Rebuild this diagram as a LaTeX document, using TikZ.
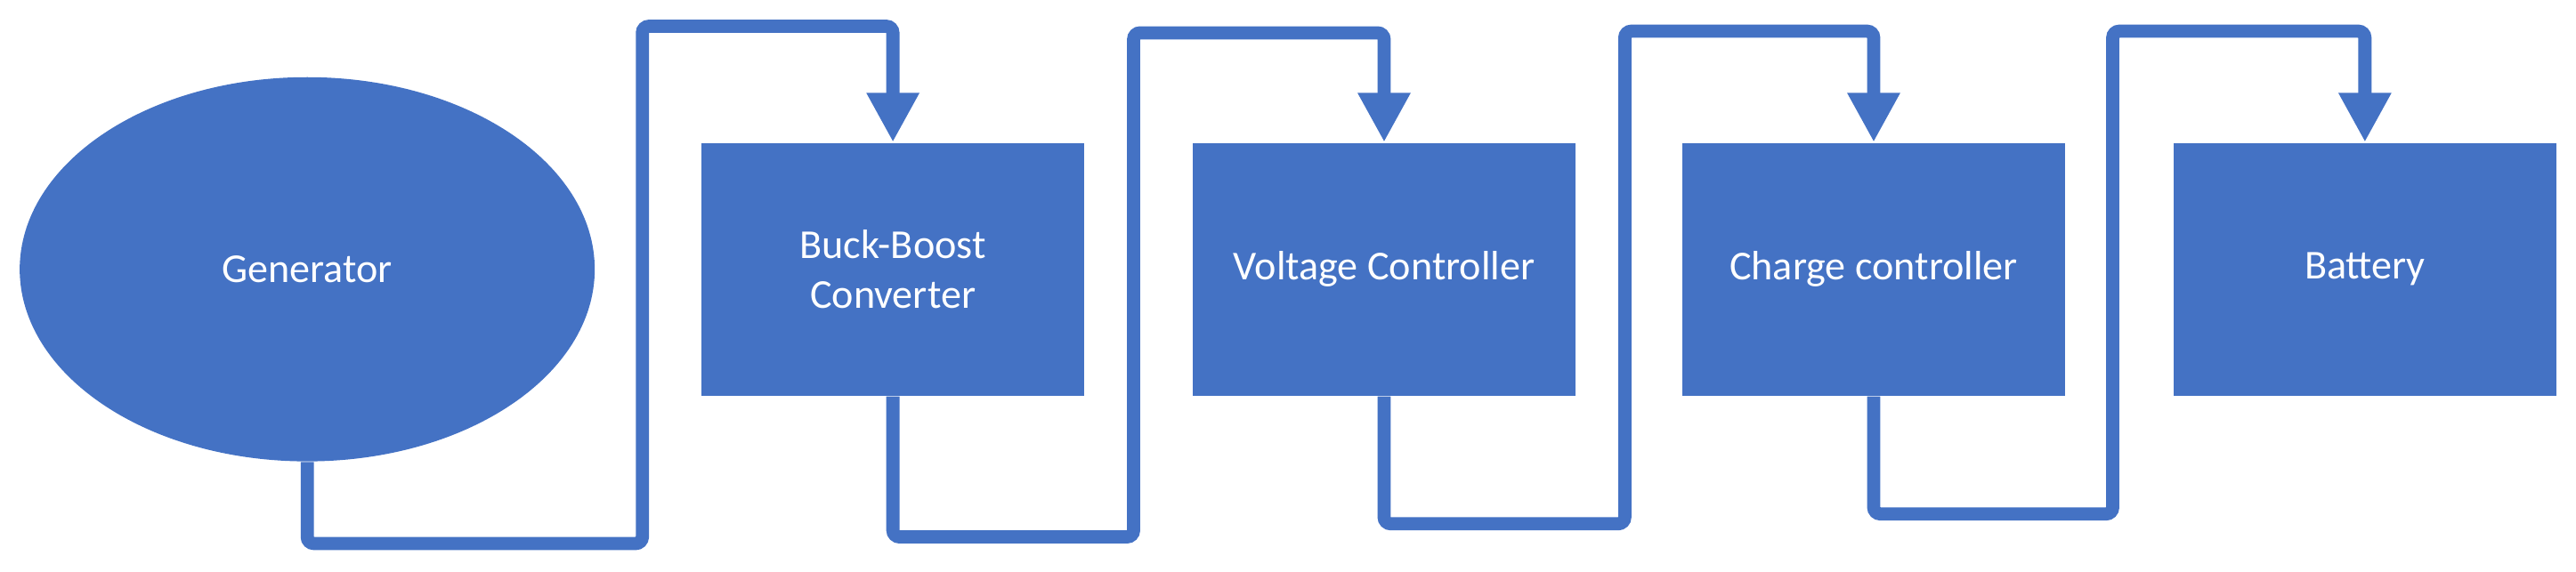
\documentclass[tikz,border=0pt]{standalone}
\usepackage{fontspec}
\setmainfont{Carlito}
\usetikzlibrary{arrows.meta,shapes.geometric}
\definecolor{blu}{HTML}{4472C4}
\begin{document}
\begin{tikzpicture}[x=0.5pt,y=-0.5pt,
  box/.style={draw=none,fill=blu,minimum width=116.5pt,minimum height=77pt,text=white,font=\fontsize{12.5}{15}\selectfont,align=center,inner sep=0},
  conn/.style={draw=blu,line width=4pt,rounded corners=2pt,-{Triangle[width=15pt,length=15pt]}}]
\useasboundingbox (0,0) rectangle (1568,348);
\node[ellipse,fill=blu,minimum width=175pt,minimum height=117pt,inner sep=0,text=white,font=\fontsize{12.5}{15}\selectfont] (gen) at (187,164) {Generator};
\node[box] (bb) at (543.5,164) {Buck-Boost\\Converter};
\node[box] (vc) at (842.5,164) {Voltage Controller};
\node[box] (cc) at (1140.5,164) {Charge controller};
\node[box] (bat) at (1439.5,164) {Battery};
\draw[conn] (gen.south) -- (187,331) -- (391,331) -- (391,16) -- (543.5,16) -- (bb.north);
\draw[conn] (bb.south) -- (543.5,327) -- (690,327) -- (690,20) -- (842.5,20) -- (vc.north);
\draw[conn] (vc.south) -- (842.5,319) -- (989,319) -- (989,19) -- (1140.5,19) -- (cc.north);
\draw[conn] (cc.south) -- (1140.5,313) -- (1286,313) -- (1286,19) -- (1439.5,19) -- (bat.north);
\end{tikzpicture}
\end{document}
